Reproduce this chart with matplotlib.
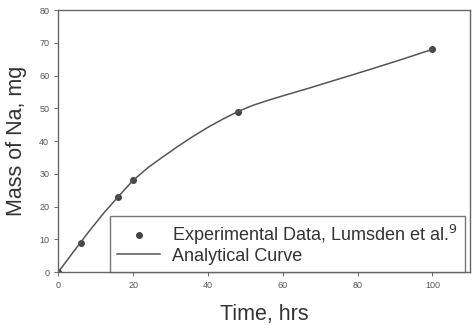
import matplotlib.pyplot as plt

plt.rcParams['font.family'] = ['Liberation Sans', 'DejaVu Sans']

# experimental points
t_exp = [0, 6, 16, 20, 48, 100]
m_exp = [0, 9, 23, 28, 49, 68]

# analytical curve
t_an = [0, 4, 8, 12, 16, 20, 24, 28, 32, 36, 40, 44, 48, 52, 56, 60, 66, 72, 78, 84, 92, 100]
m_an = [0, 6.1, 12.1, 17.8, 23.0, 28.0, 31.9, 35.2, 38.4, 41.4, 44.2, 46.7, 49.0, 50.9, 52.4, 53.8, 55.8, 57.9, 60.0, 62.1, 65.0, 68.0]

fig = plt.figure(figsize=(4.74, 3.25), dpi=100)
ax = fig.add_axes([0.123, 0.163, 0.868, 0.806])

ax.plot(t_exp, m_exp, 'o', color='#444444', markersize=4, label='Experimental Data, Lumsden et al.$^{9}$')
ax.plot(t_an, m_an, '-', color='#555555', lw=1.1, label='Analytical Curve')

ax.set_xlim(0, 110)
ax.set_ylim(0, 80)
ax.set_xticks([0, 20, 40, 60, 80, 100])
ax.set_yticks(range(0, 81, 10))
ax.tick_params(labelsize=6.5, colors='#555555', length=3, width=0.6)
for s in ax.spines.values():
    s.set_color('#666666')
    s.set_linewidth(1.0)

ax.set_xlabel('Time, hrs', fontsize=15.5, color='#333333', labelpad=10)
ax.set_ylabel('Mass of Na, mg', fontsize=15.5, color='#333333', labelpad=9)

leg = ax.legend(loc='lower right', bbox_to_anchor=(0.988, 0.0), fontsize=13,
                frameon=True, fancybox=False, borderaxespad=0.0,
                handlelength=2.4, labelspacing=0.05, borderpad=0.4,
                handletextpad=0.65)
leg.get_frame().set_edgecolor('#555555')
leg.get_frame().set_linewidth(1.0)
for txt in leg.get_texts():
    txt.set_color('#333333')

fig.savefig('out.png', dpi=100)
